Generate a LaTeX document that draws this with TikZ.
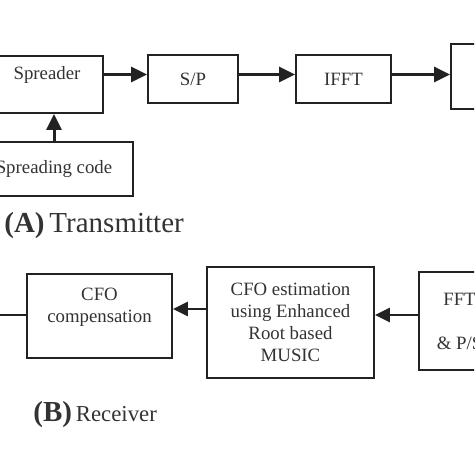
\documentclass[tikz,border=0pt]{standalone}
\usepackage{fontspec}
\setmainfont{Liberation Serif}
\usepackage{xcolor}
\usepackage{tikz}
\usetikzlibrary{arrows.meta,positioning,calc}
\definecolor{clrLine}{HTML}{222222}
\definecolor{clrText}{HTML}{333333}
\tikzset{
  blk/.style={rectangle, draw=clrLine, line width=0.9pt, fill=white,
    align=center, inner sep=1pt, text=clrText,
    font=\fontsize{9.4}{11}\selectfont},
  flow/.style={-{Triangle[length=8pt, width=7.5pt]}, line width=1.5pt, clrLine},
  flowthin/.style={-{Triangle[length=7.5pt, width=7pt]}, line width=1.2pt, clrLine},
  figcap/.style={anchor=west, inner sep=0pt, text=clrText},
}

\begin{document}
\begin{tikzpicture}[x=1pt, y=-1pt]

\useasboundingbox (0,0) rectangle (237,237);
\fill[white] (0,0) rectangle (237,237);
\clip (0,0) rectangle (237,237);

\def\yarrA{37.25}  % Hoehe der Sender-Pfeile
\def\yarrB{157.5}  % FFT -> Schaetzung
\def\yarrC{154.5}  % Schaetzung -> Kompensation

% ── Transmitter ────────────────────────────────────────────────────────────
\node[blk, minimum width=56pt, minimum height=28.5pt] (sprd) at (23.5, 42.25)
  {Spreader\\[1pt]~};
\node[blk, minimum width=45pt, minimum height=24pt] (sp) at (96.5, 39.5) {S/P};
\node[blk, minimum width=47.5pt, minimum height=24pt] (ifft) at (171.75, 39.5)
  {IFFT};
\node[blk, minimum width=34.5pt, minimum height=32.5pt] (nxtA) at (242.75, 38.25)
  {};
\node[blk, minimum width=79pt, minimum height=27pt] (code) at (27, 84.5)
  {Spreading code};

\draw[flow] (sprd.east |- 0,\yarrA) -- (sp.west |- 0,\yarrA);
\draw[flow] (sp.east |- 0,\yarrA) -- (ifft.west |- 0,\yarrA);
\draw[flow] (ifft.east |- 0,\yarrA) -- (nxtA.west |- 0,\yarrA);
\draw[flow] (code.north) -- (code.north |- sprd.south);

\node[figcap] (capA) at (2, 113)
  {\fontsize{14.5}{16}\selectfont\textbf{(A)}\,Transmitter};

% ── Receiver ───────────────────────────────────────────────────────────────
\node[blk, minimum width=72.5pt, minimum height=42pt] (comp) at (49.75, 158)
  {CFO\\compensation\\~};
\node[blk, minimum width=83.5pt, minimum height=55.5pt] (est) at (145.25, 161.25)
  {CFO estimation\\using Enhanced\\Root based\\MUSIC};
\node[blk, minimum width=40.5pt, minimum height=49pt] (fft) at (229.75, 160.5)
  {FFT\\~\\\& P/S};
\coordinate (outB) at (-30, \yarrB);

\draw[flowthin] (fft.west |- 0,\yarrB) -- (est.east |- 0,\yarrB);
\draw[flowthin] (est.west |- 0,\yarrC) -- (comp.east |- 0,\yarrC);
\draw[flowthin] (comp.west |- outB) -- (outB);

\node[figcap] (capB) at (16.5, 207.5)
  {\fontsize{14.5}{16}\selectfont\textbf{(B)}\fontsize{11.4}{13}\selectfont
   \,Receiver};

\end{tikzpicture}
\end{document}
